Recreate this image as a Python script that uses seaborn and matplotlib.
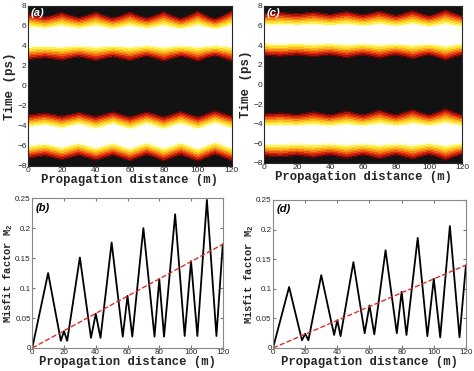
import numpy as np
import matplotlib
matplotlib.use('Agg')
import matplotlib.pyplot as plt
from matplotlib.ticker import FuncFormatter
import seaborn as sns

# ------------------------
# Data
# ------------------------

# pulse band edges (ps) sampled every 10 m of propagation
band_dist = [0, 10, 20, 30, 40, 50, 60, 70, 80, 90, 100, 110, 120]

a_top_upper = [7.25, 6.9, 7.35, 6.85, 7.4, 6.8, 7.4, 6.8, 7.45, 6.75, 7.5, 6.7, 7.55]
a_top_lower = [2.6, 2.8, 2.55, 2.9, 2.5, 2.9, 2.5, 2.95, 2.45, 2.95, 2.45, 3.0, 2.45]
a_bot_upper = [-2.9, -2.7, -3.0, -2.65, -3.05, -2.6, -3.1, -2.6, -3.1, -2.55, -3.1, -2.5, -3.0]
a_bot_lower = [-7.25, -7.0, -7.4, -6.95, -7.45, -6.95, -7.5, -6.9, -7.5, -6.9, -7.55, -6.85, -7.5]

c_top_upper = [7.25, 7.35, 7.2, 7.4, 7.15, 7.45, 7.1, 7.5, 7.05, 7.55, 7.0, 7.6, 7.0]
c_top_lower = [2.95, 2.85, 3.0, 2.8, 3.0, 2.7, 3.0, 2.65, 3.0, 2.6, 3.0, 2.45, 3.0]
c_bot_upper = [-3.0, -2.9, -3.05, -2.8, -3.1, -2.7, -3.1, -2.6, -3.1, -2.55, -3.1, -2.45, -3.1]
c_bot_lower = [-7.3, -7.4, -7.25, -7.45, -7.2, -7.55, -7.2, -7.6, -7.2, -7.65, -7.15, -7.75, -7.15]

# misfit factor M2 versus propagation distance
b_dist = [0, 10, 18, 20, 22, 30, 37, 40, 43, 50, 57, 60, 63, 70, 77, 80, 83, 90, 96, 100, 104, 110, 116, 120]
b_misfit = [0, 0.125, 0.012, 0.028, 0.012, 0.151, 0.017, 0.057, 0.017, 0.176, 0.019, 0.087, 0.019,
            0.2, 0.019, 0.115, 0.019, 0.223, 0.02, 0.145, 0.02, 0.247, 0.02, 0.173]
b_trend = [0, 0.173]

d_dist = [0, 10, 18, 20, 22, 30, 38, 40, 42, 50, 57, 60, 63, 70, 77, 80, 83, 90, 96, 100, 104, 110, 116, 120]
d_misfit = [0, 0.103, 0.013, 0.024, 0.013, 0.123, 0.022, 0.047, 0.02, 0.145, 0.025, 0.072, 0.023,
            0.165, 0.025, 0.095, 0.022, 0.186, 0.02, 0.117, 0.018, 0.206, 0.018, 0.14]
d_trend = [0, 0.14]
trend_dist = [0, 120]

# ------------------------
# Style
# ------------------------

sns.set_style("ticks")
plt.rcParams['font.family'] = ['Liberation Sans', 'DejaVu Sans']
plt.rcParams['mathtext.default'] = 'regular'
plt.rcParams['xtick.direction'] = 'in'
plt.rcParams['ytick.direction'] = 'in'

label_font = dict(family='Liberation Mono', weight='bold')
band_colors = ['#121212', '#5a0906', '#a8120b', '#d8280e', '#ee5812', '#f58a18',
               '#f9b820', '#fcdc2e', '#fef05a', '#fffcc4', '#ffffff']
band_levels = [-100, 0, 0.06, 0.13, 0.2, 0.27, 0.34, 0.41, 0.48, 0.55, 0.62, 100]


def band_field(t, upper, lower):
    upper = np.array(upper)
    lower = np.array(lower)
    centre = (upper + lower) / 2
    half = (upper - lower) / 2
    return 1 - np.abs(t[:, None] - centre[None, :]) / half[None, :]


def plot_pulses(ax, bands, tag):
    t = np.linspace(-8, 8, 641)
    field = np.maximum(band_field(t, *bands[0]), band_field(t, *bands[1]))
    ax.contourf(band_dist, t, field, levels=band_levels, colors=band_colors)
    ax.set_xlim(0, 120)
    ax.set_ylim(-8, 8)
    ax.set_xticks(range(0, 121, 20))
    ax.set_yticks(range(-8, 9, 2))
    ax.set_xlabel('Propagation distance (m)', fontsize=8.8, labelpad=0, **label_font)
    ax.set_ylabel('Time (ps)', fontsize=9, labelpad=0.5, **label_font)
    ax.tick_params(labelsize=6, length=2, pad=1, top=True, right=True)
    ax.text(0.015, 0.985, tag, transform=ax.transAxes, color='white', fontsize=8,
            fontweight='bold', fontstyle='italic', va='top', ha='left')


def plot_misfit(ax, dist, misfit, trend, tag):
    sns.lineplot(x=dist, y=misfit, color='black', linewidth=1.3, ax=ax)
    sns.lineplot(x=trend_dist, y=trend, color='#d9302a', linewidth=1.0, linestyle='--', ax=ax)
    ax.set_xlim(0, 120)
    ax.set_ylim(0, 0.25)
    ax.set_xticks(range(0, 121, 20))
    ax.set_yticks([0, 0.05, 0.1, 0.15, 0.2, 0.25])
    ax.yaxis.set_major_formatter(FuncFormatter(lambda v, p: f'{v:g}'))
    ax.set_xlabel('Propagation distance (m)', fontsize=8.8, labelpad=0, **label_font)
    ax.set_ylabel('Misfit factor M$_2$', fontsize=7.5, labelpad=0, **label_font)
    ax.tick_params(labelsize=5.8, length=2.5, pad=1, top=True, right=True, color='#777777')
    for s in ax.spines.values():
        s.set_color('#888888')
        s.set_linewidth(0.8)
    ax.text(0.02, 0.97, tag, transform=ax.transAxes, color='black', fontsize=8,
            fontweight='bold', fontstyle='italic', va='top', ha='left')


fig = plt.figure(figsize=(4.74, 3.71), dpi=100)
ax_a = fig.add_axes([0.059, 0.553, 0.430, 0.431])
ax_c = fig.add_axes([0.557, 0.561, 0.418, 0.423])
ax_b = fig.add_axes([0.068, 0.062, 0.402, 0.404])
ax_d = fig.add_axes([0.576, 0.062, 0.407, 0.399])

plot_pulses(ax_a, [(a_top_upper, a_top_lower), (a_bot_upper, a_bot_lower)], '(a)')
plot_pulses(ax_c, [(c_top_upper, c_top_lower), (c_bot_upper, c_bot_lower)], '(c)')
plot_misfit(ax_b, b_dist, b_misfit, b_trend, '(b)')
plot_misfit(ax_d, d_dist, d_misfit, d_trend, '(d)')

fig.savefig('out.png', dpi=100)
